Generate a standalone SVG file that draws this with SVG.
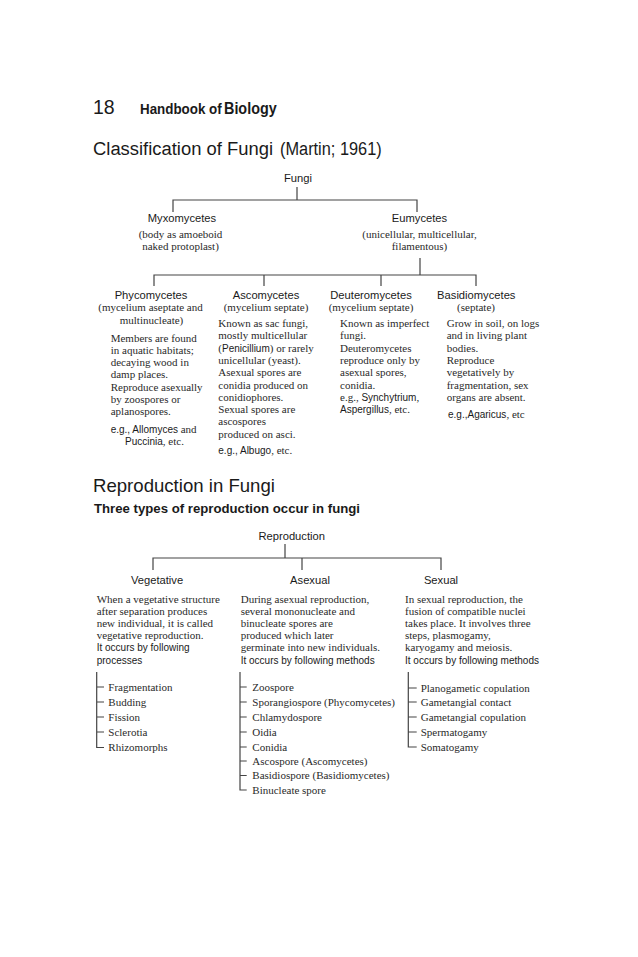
<svg xmlns="http://www.w3.org/2000/svg" width="638" height="957" viewBox="0 0 638 957">
<style>
.h{font-family:"Liberation Sans",Arial,sans-serif;font-size:11.2px;fill:#1a1a1a;text-anchor:middle}
.b{font-family:"Liberation Serif","Times New Roman",serif;font-size:11px;fill:#2a2a2a}
.c{text-anchor:middle}
.s{font-family:"Liberation Sans",Arial,sans-serif;font-size:10px;fill:#1a1a1a}
.t{font-family:"Liberation Sans",Arial,sans-serif;fill:#1a1a1a}
.ln{fill:none;stroke:#444;stroke-width:1.2}
</style>
<rect width="638" height="957" fill="#fff"/>
<g id="header">
<text class="t" x="93" y="114" font-size="19.5">18</text>
<text class="t" x="140" y="114" font-size="14" font-weight="bold" textLength="81.7" lengthAdjust="spacingAndGlyphs">Handbook of</text>
<text class="t" x="224" y="114" font-size="17" font-weight="bold" textLength="52.7" lengthAdjust="spacingAndGlyphs">Biology</text>
<text class="t" x="93" y="155" font-size="18" textLength="180" lengthAdjust="spacingAndGlyphs">Classification of Fungi</text>
<text class="t" x="280" y="155" font-size="18" textLength="101.7" lengthAdjust="spacingAndGlyphs">(Martin; 1961)</text>
</g>
<g id="connectors">
<path class="ln" d="M297 187V200M173 212V200H417V212"/>
<path class="ln" d="M420 258V275M154 286V275H476V286M264 275V286M381 275V286"/>
<path class="ln" d="M285 544V558M153 570V558H441V570M302 558V570"/>
<path class="ln" d="M96.7 672V747.5H104M96.7 687H104M96.7 702H104M96.7 717H104M96.7 732H104"/>
<path class="ln" d="M240 672V790H246.7M240 687H246.7M240 702H246.7M240 717H246.7M240 732H246.7M240 747H246.7M240 761H246.7M240 775.5H246.7"/>
<path class="ln" d="M408.3 672V747H416.7M408.3 688H416.7M408.3 702H416.7M408.3 717H416.7M408.3 732H416.7"/>
</g>
<g id="fungi"><text class="h" x="298" y="182.3">Fungi</text></g>
<g id="myxomycetes">
<text class="h" x="182" y="222.3">Myxomycetes</text>
<text class="b c" x="180.5" y="237.7">(body as amoeboid</text>
<text class="b c" x="180.5" y="249.5">naked protoplast)</text>
</g>
<g id="eumycetes">
<text class="h" x="419.5" y="222.3">Eumycetes</text>
<text class="b c" x="419.5" y="237.7">(unicellular, multicellular,</text>
<text class="b c" x="419.5" y="249.5">filamentous)</text>
</g>
<g id="phycomycetes">
<text class="h" x="151" y="299">Phycomycetes</text>
<text class="b c" x="150.5" y="311">(mycelium aseptate and</text>
<text class="b c" x="151.5" y="323.5">multinucleate)</text>
<text class="b" x="110.7" y="341.5">Members are found</text>
<text class="b" x="110.7" y="353.8">in aquatic habitats;</text>
<text class="b" x="110.7" y="366.1">decaying wood in</text>
<text class="b" x="110.7" y="378.4">damp places.</text>
<text class="b" x="110.7" y="390.7">Reproduce asexually</text>
<text class="b" x="110.7" y="403">by zoospores or</text>
<text class="b" x="110.7" y="415.3">aplanospores.</text>
<text class="b" x="110.7" y="432.5"><tspan class="s">e.g., Allomyces</tspan> and</text>
<text class="b" x="125" y="445"><tspan class="s">Puccinia</tspan>, etc.</text>
</g>
<g id="ascomycetes">
<text class="h" x="266" y="299">Ascomycetes</text>
<text class="b c" x="266" y="311">(mycelium septate)</text>
<text class="b" x="218.3" y="327">Known as sac fungi,</text>
<text class="b" x="218.3" y="339.3">mostly multicellular</text>
<text class="b" x="218.3" y="351.6">(<tspan class="s">Penicillium</tspan>) or rarely</text>
<text class="b" x="218.3" y="363.9">unicellular (yeast).</text>
<text class="b" x="218.3" y="376.2">Asexual spores are</text>
<text class="b" x="218.3" y="388.5">conidia produced on</text>
<text class="b" x="218.3" y="400.8">conidiophores.</text>
<text class="b" x="218.3" y="413.1">Sexual spores are</text>
<text class="b" x="218.3" y="425.4">ascospores</text>
<text class="b" x="218.3" y="437.7">produced on asci.</text>
<text class="b" x="218.3" y="453.5"><tspan class="s">e.g., Albugo</tspan>, etc.</text>
</g>
<g id="deuteromycetes">
<text class="h" x="371" y="299">Deuteromycetes</text>
<text class="b c" x="371" y="311">(mycelium septate)</text>
<text class="b" x="340" y="327">Known as imperfect</text>
<text class="b" x="340" y="339.3">fungi.</text>
<text class="b" x="340" y="351.6">Deuteromycetes</text>
<text class="b" x="340" y="363.9">reproduce only by</text>
<text class="b" x="340" y="376.2">asexual spores,</text>
<text class="b" x="340" y="388.5">conidia.</text>
<text class="b" x="340" y="400.8">e.g., <tspan class="s">Synchytrium</tspan>,</text>
<text class="b" x="340" y="413.1"><tspan class="s">Aspergillus</tspan>, etc.</text>
</g>
<g id="basidiomycetes">
<text class="h" x="476.3" y="299">Basidiomycetes</text>
<text class="b c" x="476" y="311">(septate)</text>
<text class="b" x="446.7" y="327">Grow in soil, on logs</text>
<text class="b" x="446.7" y="339.3">and in living plant</text>
<text class="b" x="446.7" y="351.6">bodies.</text>
<text class="b" x="446.7" y="363.9">Reproduce</text>
<text class="b" x="446.7" y="376.2">vegetatively by</text>
<text class="b" x="446.7" y="388.5">fragmentation, sex</text>
<text class="b" x="446.7" y="400.8">organs are absent.</text>
<text class="b" x="448" y="417.5"><tspan class="s">e.g.,Agaricus</tspan>, etc</text>
</g>
<g id="reproduction-title">
<text class="t" x="93" y="491.7" font-size="18.6">Reproduction in Fungi</text>
<text class="t" x="94" y="512.7" font-size="13.2" font-weight="bold">Three types of reproduction occur in fungi</text>
</g>
<g id="reproduction"><text class="h" x="291.7" y="540">Reproduction</text></g>
<g id="vegetative">
<text class="h" x="157" y="584">Vegetative</text>
<text class="b" x="96.7" y="602.5">When a vegetative structure</text>
<text class="b" x="96.7" y="614.7">after separation produces</text>
<text class="b" x="96.7" y="626.9">new individual, it is called</text>
<text class="b" x="96.7" y="639.1">vegetative reproduction.</text>
<text class="s" x="96.7" y="651.3">It occurs by following</text>
<text class="s" x="96.7" y="663.5">processes</text>
<text class="b" x="108.3" y="690.5">Fragmentation</text>
<text class="b" x="108.3" y="705.5">Budding</text>
<text class="b" x="108.3" y="720.5">Fission</text>
<text class="b" x="108.3" y="735.5">Sclerotia</text>
<text class="b" x="108.3" y="750.5">Rhizomorphs</text>
</g>
<g id="asexual">
<text class="h" x="310" y="584">Asexual</text>
<text class="b" x="240.7" y="602.5">During asexual reproduction,</text>
<text class="b" x="240.7" y="614.7">several mononucleate and</text>
<text class="b" x="240.7" y="626.9">binucleate spores are</text>
<text class="b" x="240.7" y="639.1">produced which later</text>
<text class="b" x="240.7" y="651.3">germinate into new individuals.</text>
<text class="s" x="240.7" y="663.5">It occurs by following methods</text>
<text class="b" x="252.3" y="690.5">Zoospore</text>
<text class="b" x="252.3" y="705.5">Sporangiospore (Phycomycetes)</text>
<text class="b" x="252.3" y="720.5">Chlamydospore</text>
<text class="b" x="252.3" y="735.5">Oidia</text>
<text class="b" x="252.3" y="750.5">Conidia</text>
<text class="b" x="252.3" y="764.5">Ascospore (Ascomycetes)</text>
<text class="b" x="252.3" y="779">Basidiospore (Basidiomycetes)</text>
<text class="b" x="252.3" y="793.5">Binucleate spore</text>
</g>
<g id="sexual">
<text class="h" x="441" y="584">Sexual</text>
<text class="b" x="405" y="602.5">In sexual reproduction, the</text>
<text class="b" x="405" y="614.7">fusion of compatible nuclei</text>
<text class="b" x="405" y="626.9">takes place. It involves three</text>
<text class="b" x="405" y="639.1">steps, plasmogamy,</text>
<text class="b" x="405" y="651.3">karyogamy and meiosis.</text>
<text class="s" x="405" y="663.5">It occurs by following methods</text>
<text class="b" x="420.7" y="691.5">Planogametic copulation</text>
<text class="b" x="420.7" y="705.5">Gametangial contact</text>
<text class="b" x="420.7" y="720.5">Gametangial copulation</text>
<text class="b" x="420.7" y="735.5">Spermatogamy</text>
<text class="b" x="420.7" y="750.5">Somatogamy</text>
</g>
</svg>
